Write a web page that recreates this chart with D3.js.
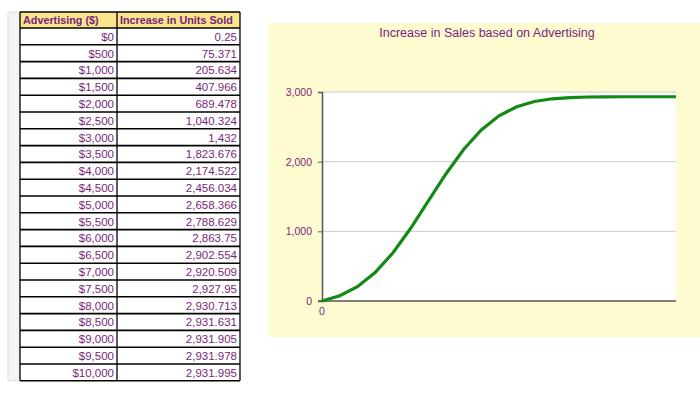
<!DOCTYPE html>
<html><head><meta charset="utf-8">
<script src="https://cdn.jsdelivr.net/npm/d3@7"></script>
<style>body{margin:0;background:#fff;font-family:"Liberation Sans",Arial,sans-serif;}</style>
</head><body><svg width="700" height="408"></svg>
<script>
const advertising = [0,500,1000,1500,2000,2500,3000,3500,4000,4500,5000,5500,6000,6500,7000,7500,8000,8500,9000,9500,10000];
const unitsLabels = ["0.25","75.371","205.634","407.966","689.478","1,040.324","1,432","1,823.676","2,174.522","2,456.034","2,658.366","2,788.629","2,863.75","2,902.554","2,920.509","2,927.95","2,930.713","2,931.631","2,931.905","2,931.978","2,931.995"];
const units = unitsLabels.map(s => +s.replace(/,/g, ""));
const yTicks = [0,1000,2000,3000];
const headers = ["Advertising ($)", "Increase in Units Sold"];

const svg = d3.select("svg");
const purple = "#7a1f7a";

// ---- table ----
const colX = [20, 117, 240];
const headTop = 12, rowTop = 28, rowH = 16.8;
const t = svg.append("g");
// row-number gutter
t.append("rect").attr("x", 8).attr("y", headTop).attr("width", 12)
  .attr("height", rowTop + rowH * advertising.length - headTop)
  .attr("fill", "#f4f4f4").attr("stroke", "#ddd");
t.append("rect").attr("x", colX[0]).attr("y", headTop).attr("width", colX[2] - colX[0])
  .attr("height", rowTop - headTop).attr("fill", "#f8e58c");
t.append("rect").attr("x", colX[0]).attr("y", rowTop).attr("width", colX[2] - colX[0])
  .attr("height", rowH * advertising.length).attr("fill", "#fff");
headers.forEach((h, i) => {
  t.append("text").attr("x", colX[i] + 3).attr("y", rowTop - 4)
    .attr("font-size", 10.8).attr("font-weight", "bold").attr("fill", purple).text(h);
});
const rows = t.selectAll(".row").data(advertising).enter().append("g")
  .attr("transform", (d, i) => `translate(0,${rowTop + i * rowH})`);
rows.append("text").attr("x", colX[1] - 3).attr("y", rowH - 4).attr("text-anchor", "end")
  .attr("font-size", 11.5).attr("fill", purple).text(d => "$" + d3.format(",")(d));
rows.append("text").attr("x", colX[2] - 3).attr("y", rowH - 4).attr("text-anchor", "end")
  .attr("font-size", 11.5).attr("fill", purple).text((d, i) => unitsLabels[i]);
// grid lines
d3.range(advertising.length + 2).forEach(i => {
  const y = i === 0 ? headTop : rowTop + (i - 1) * rowH;
  t.append("line").attr("x1", colX[0]).attr("x2", colX[2]).attr("y1", y).attr("y2", y)
    .attr("stroke", "#000").attr("stroke-width", 1.6);
});
colX.forEach(x => t.append("line").attr("x1", x).attr("x2", x).attr("y1", headTop)
  .attr("y2", rowTop + rowH * advertising.length).attr("stroke", "#000").attr("stroke-width", 1.3));

// ---- chart ----
svg.append("rect").attr("x", 268).attr("y", 23).attr("width", 432).attr("height", 314).attr("fill", "#fefbd0");
svg.append("text").attr("x", 487).attr("y", 37).attr("text-anchor", "middle")
  .attr("font-size", 12.5).attr("fill", purple).text("Increase in Sales based on Advertising");

const x = d3.scaleLinear().domain([0, 10000]).range([322, 676]);
const y = d3.scaleLinear().domain([0, 3000]).range([301, 92]);
svg.append("rect").attr("x", x(0)).attr("y", y(3000)).attr("width", x(10000) - x(0))
  .attr("height", y(0) - y(3000)).attr("fill", "#fff");
svg.selectAll(".grid").data(yTicks.slice(1)).enter().append("line")
  .attr("x1", x(0)).attr("x2", x(10000)).attr("y1", d => y(d)).attr("y2", d => y(d))
  .attr("stroke", "#ccc");

const yAxis = svg.append("g").attr("transform", `translate(${x(0)},0)`)
  .call(d3.axisLeft(y).tickValues(yTicks).tickFormat(d3.format(",")).tickSize(4).tickPadding(6));
yAxis.select(".domain").attr("stroke", "#555").attr("stroke-width", 1.5);
yAxis.selectAll("line").attr("stroke", "#555");
yAxis.selectAll("text").attr("fill", purple).attr("font-size", 10.5)
  .attr("font-family", "Liberation Sans, Arial, sans-serif");

svg.append("line").attr("x1", x(0) - 4).attr("x2", x(10000)).attr("y1", y(0)).attr("y2", y(0))
  .attr("stroke", "#555").attr("stroke-width", 1.5);
svg.append("text").attr("x", x(0)).attr("y", y(0) + 14).attr("text-anchor", "middle")
  .attr("font-size", 10.5).attr("fill", purple).text("0");

svg.append("path").datum(advertising)
  .attr("d", d3.line().x(d => x(d)).y((d, i) => y(units[i])))
  .attr("fill", "none").attr("stroke", "#138a13").attr("stroke-width", 3.2);
</script></body></html>
